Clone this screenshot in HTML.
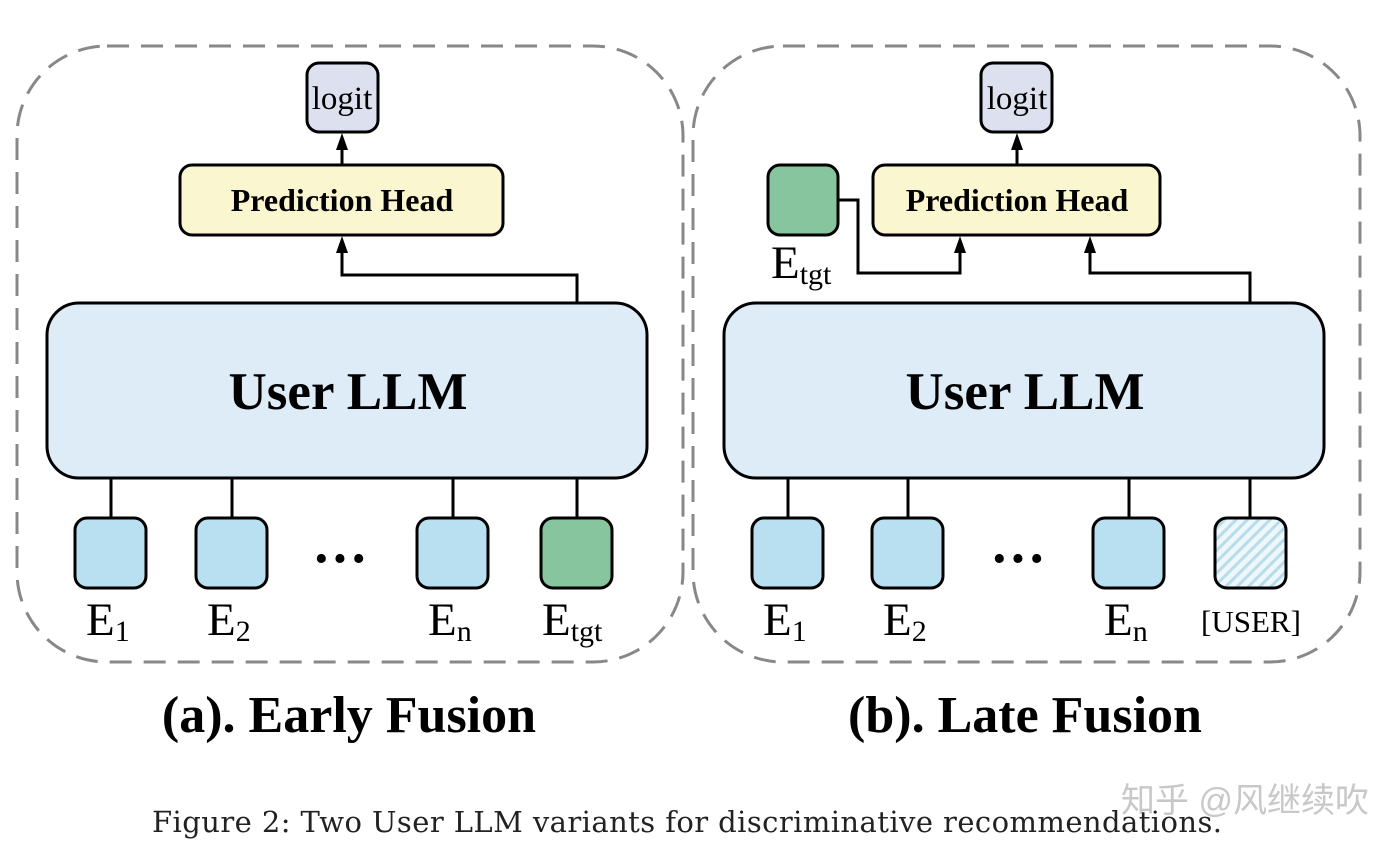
<!DOCTYPE html>
<html><head><style>body{margin:0;background:#fff}</style></head><body>
<svg width="1384" height="860" viewBox="0 0 1384 860" xmlns="http://www.w3.org/2000/svg">
<defs>
<pattern id="hatch" width="8" height="8" patternUnits="userSpaceOnUse" patternTransform="rotate(45)">
<rect width="8" height="8" fill="#eef7fb"/><rect width="3" height="8" fill="#b8dcea"/></pattern>
</defs>
<g fill="none" stroke="#888" stroke-width="3" stroke-dasharray="22,12">
<rect x="17" y="46" width="666" height="616" rx="90"/>
<rect x="693" y="46" width="667" height="616" rx="90"/>
</g>
<g stroke="#000" stroke-width="3">
<rect x="307" y="63" width="71" height="69" rx="12" fill="#dde0ee"/>
<rect x="180" y="165" width="323" height="70" rx="12" fill="#faf7d0"/>
<rect x="47" y="303" width="600" height="175" rx="32" fill="#deecf7"/>
<line x1="342" y1="165" x2="342" y2="145"/>
<polyline points="577,303 577,275 342,275 342,248" fill="none"/>
<line x1="111" y1="478" x2="111" y2="518"/><line x1="232" y1="478" x2="232" y2="518"/>
<line x1="453" y1="478" x2="453" y2="518"/><line x1="577" y1="478" x2="577" y2="518"/>
<rect x="75" y="518" width="71" height="70" rx="12" fill="#b9e0f0"/>
<rect x="196" y="518" width="71" height="70" rx="12" fill="#b9e0f0"/>
<rect x="417" y="518" width="71" height="70" rx="12" fill="#b9e0f0"/>
<rect x="541" y="518" width="71" height="70" rx="12" fill="#86c59e"/>
<rect x="981" y="63" width="71" height="69" rx="12" fill="#dde0ee"/>
<rect x="873" y="165" width="287" height="70" rx="12" fill="#faf7d0"/>
<rect x="768" y="165" width="70" height="70" rx="12" fill="#86c59e"/>
<rect x="724" y="303" width="600" height="175" rx="32" fill="#deecf7"/>
<line x1="1017" y1="165" x2="1017" y2="145"/>
<polyline points="838,200 858,200 858,273 960,273 960,248" fill="none"/>
<polyline points="1250,303 1250,273 1090,273 1090,248" fill="none"/>
<line x1="788" y1="478" x2="788" y2="518"/><line x1="908" y1="478" x2="908" y2="518"/>
<line x1="1129" y1="478" x2="1129" y2="518"/><line x1="1250" y1="478" x2="1250" y2="518"/>
<rect x="752" y="518" width="71" height="70" rx="12" fill="#b9e0f0"/>
<rect x="872" y="518" width="71" height="70" rx="12" fill="#b9e0f0"/>
<rect x="1093" y="518" width="71" height="70" rx="12" fill="#b9e0f0"/>
<rect x="1215" y="518" width="71" height="70" rx="12" fill="url(#hatch)"/>
</g>
<g fill="#000">
<polygon points="342,133 336,150 348,150"/>
<polygon points="342,236 336,253 348,253"/>
<polygon points="1017,133 1011,150 1023,150"/>
<polygon points="960,236 954,253 966,253"/>
<polygon points="1090,236 1084,253 1096,253"/>
</g>
<g font-family="Liberation Serif, serif" fill="#000">
<text x="342" y="109" font-size="33" text-anchor="middle">logit</text>
<text x="1017" y="109" font-size="33" text-anchor="middle">logit</text>
<text x="342" y="211" font-size="32" font-weight="bold" text-anchor="middle">Prediction Head</text>
<text x="1017" y="211" font-size="32" font-weight="bold" text-anchor="middle">Prediction Head</text>
<text x="348" y="409" font-size="53" font-weight="bold" text-anchor="middle">User LLM</text>
<text x="1025" y="409" font-size="53" font-weight="bold" text-anchor="middle">User LLM</text>
<g font-size="47">
<text x="86" y="635">E<tspan font-size="30" dy="6">1</tspan></text>
<text x="207" y="635">E<tspan font-size="30" dy="6">2</tspan></text>
<text x="428" y="635">E<tspan font-size="30" dy="6">n</tspan></text>
<text x="542" y="635">E<tspan font-size="30" dy="6">tgt</tspan></text>
<text x="763" y="635">E<tspan font-size="30" dy="6">1</tspan></text>
<text x="883" y="635">E<tspan font-size="30" dy="6">2</tspan></text>
<text x="1104" y="635">E<tspan font-size="30" dy="6">n</tspan></text>
<text x="771" y="278">E<tspan font-size="30" dy="6">tgt</tspan></text>
</g>
<text x="1251" y="632" font-size="31" text-anchor="middle">[USER]</text>
<text x="340" y="577" font-size="56" font-weight="bold" text-anchor="middle">···</text>
<text x="1018" y="577" font-size="56" font-weight="bold" text-anchor="middle">···</text>
<text x="349" y="732" font-size="52" font-weight="bold" text-anchor="middle">(a). Early Fusion</text>
<text x="1025" y="732" font-size="52" font-weight="bold" text-anchor="middle">(b). Late Fusion</text>
</g>
<text x="1245" y="812" font-family="Liberation Sans, Noto Sans CJK SC, sans-serif" font-size="34" fill="#c8c8c8" text-anchor="middle">知乎 @风继续吹</text>
<text x="152" y="832" font-family="DejaVu Serif, serif" font-size="29" fill="#222" textLength="1070">Figure 2: Two User LLM variants for discriminative recommendations.</text>
</svg>
</body></html>
